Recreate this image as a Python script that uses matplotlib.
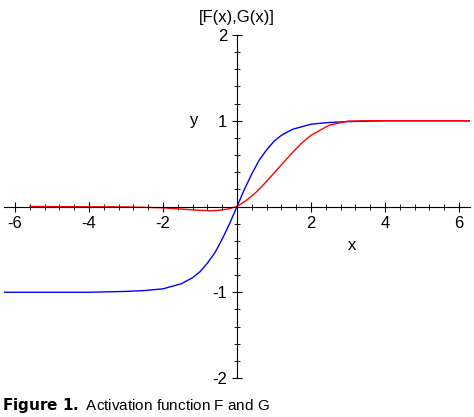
import numpy as np
import matplotlib.pyplot as plt
from matplotlib.ticker import MultipleLocator

plt.rcParams["font.family"] = ["Liberation Sans", "DejaVu Sans"]
plt.rcParams["axes.unicode_minus"] = False

# F(x): blue curve
f_x = [-6.3, -4, -3, -2.5, -2, -1.5, -1.2, -1, -0.8, -0.6, -0.4, -0.2, 0,
       0.2, 0.4, 0.6, 0.8, 1, 1.2, 1.5, 2, 2.5, 3, 4, 6.3]
f_y = [-1.0, -1.0, -0.99, -0.98, -0.96, -0.9, -0.83, -0.76, -0.66, -0.54,
       -0.38, -0.2, 0, 0.2, 0.38, 0.54, 0.66, 0.76, 0.83, 0.9, 0.96, 0.98,
       0.99, 1.0, 1.0]
# G(x): red curve
g_x = [-5.6, -3, -2, -1.5, -1, -0.7, -0.5, -0.25, 0, 0.25, 0.5, 0.75, 1,
       1.25, 1.5, 1.75, 2, 2.5, 3, 3.5, 6.3]
g_y = [0.0, -0.005, -0.015, -0.03, -0.045, -0.05, -0.045, -0.03, 0, 0.07,
       0.16, 0.27, 0.39, 0.51, 0.63, 0.74, 0.83, 0.95, 0.995, 1.0, 1.0]

fig = plt.figure(figsize=(4.74, 4.17), dpi=100)
ax = fig.add_axes([4 / 474, 39 / 417, 466 / 474, 343 / 417])
ax.plot(f_x, f_y, color="blue", lw=1)
ax.plot(g_x, g_y, color="red", lw=1)
ax.set_xlim(-6.3, 6.3)
ax.set_ylim(-2, 2)

for s in ["top", "right"]:
    ax.spines[s].set_visible(False)
ax.spines["left"].set_position(("data", 0))
ax.spines["bottom"].set_position(("data", 0))
ax.xaxis.set_major_locator(MultipleLocator(2))
ax.xaxis.set_minor_locator(MultipleLocator(0.4))
ax.yaxis.set_major_locator(MultipleLocator(1))
ax.yaxis.set_minor_locator(MultipleLocator(0.2))
ax.set_xticks([-6, -4, -2, 2, 4, 6])
ax.set_yticks([-2, -1, 1, 2])
ax.tick_params(which="major", direction="inout", length=7, labelsize=12)
ax.tick_params(which="minor", direction="inout", length=4)
ax.patch.set_alpha(0)

ax.text(0, 2.2, "[F(x),G(x)]", ha="center", va="center", fontsize=12)
ax.text(-1.15, 1.0, "y", ha="center", va="center", fontsize=12)
ax.text(3.1, -0.45, "x", ha="center", va="center", fontsize=12)
fig.text(0.005, 0.005, r"$\bf{Figure\ 1.}$ Activation function F and G",
         fontsize=11, ha="left", va="bottom")
fig.savefig("out.png", dpi=100)
